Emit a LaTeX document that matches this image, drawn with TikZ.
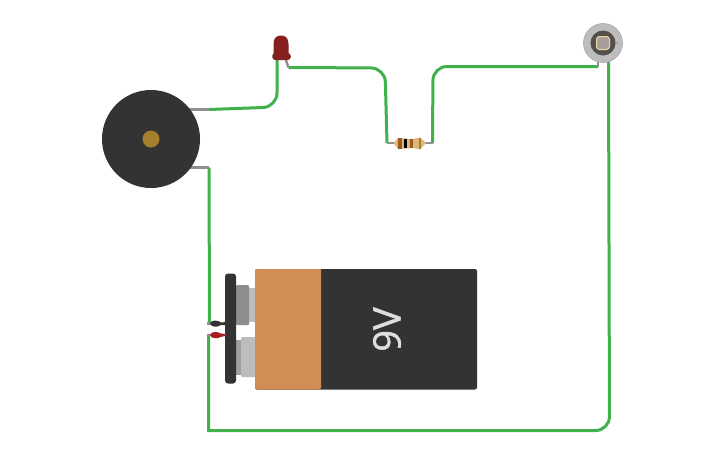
\documentclass[tikz,border=0pt]{standalone}
\usepackage{fontspec}
\setmainfont{Open Sans}
\newfontfamily\lablefont[FakeBold=1.2]{Open Sans}
\definecolor{wiregreen}{HTML}{41B14B}
\definecolor{leadgray}{HTML}{8F8F8F}
\definecolor{darkbody}{HTML}{333333}
\definecolor{battorange}{HTML}{D18D54}
\definecolor{ledred}{HTML}{85201F}
\definecolor{midgray}{HTML}{8E8E8E}
\definecolor{lightgray2}{HTML}{BDBDBD}
\definecolor{gold}{HTML}{A67F2E}
\definecolor{restan}{HTML}{DDB67C}
\definecolor{bandbrown}{HTML}{9A5A20}
\definecolor{clipred}{HTML}{A81E22}
\definecolor{ldrwindow}{HTML}{A99C99}
\definecolor{ldredge}{HTML}{EBDDA8}
\definecolor{ldrdark}{HTML}{544F4C}
\tikzset{
  wire/.style={draw=wiregreen,line width=3pt,line join=miter},
  lead/.style={draw=leadgray,line width=2.4pt},
  part/.style={draw=none,inner sep=0pt,outer sep=0pt},
  blk/.style={part,rectangle,anchor=north west}
}
\newcommand{\boxat}[6]{\node[blk,fill=#2,minimum width=#5pt,minimum height=#6pt,#1] at (#3,#4) {};}
\begin{document}
\begin{tikzpicture}[x=1pt,y=-1pt]
\useasboundingbox (0,0) rectangle (725,453);
\fill[white] (0,0) rectangle (725,453);
% terminals
\coordinate (bzA) at (189,109.5);
\coordinate (bzAe) at (209,109.5);
\coordinate (bzB) at (189,167.5);
\coordinate (bzBe) at (209,167.5);
\coordinate (ledA) at (277,47);
\coordinate (ledAe) at (277,60);
\coordinate (ledB) at (284,55);
\coordinate (ledBe) at (288.5,67.5);
\coordinate (resA) at (396,143);
\coordinate (resAe) at (387,143);
\coordinate (resB) at (424,143);
\coordinate (resBe) at (432.5,143);
\coordinate (ldrA) at (598,55);
\coordinate (ldrAe) at (598,66.5);
\coordinate (ldrB) at (608.5,55);
\coordinate (ldrBe) at (608.5,63);
\coordinate (batB) at (207,323.5);
\coordinate (batR) at (207,335);
% green wires
\draw[wire,rounded corners=14pt] (bzAe) -- (277,107) -- (ledAe);
\draw[wire,rounded corners=14pt] (ledBe) -- (385,68) -- (resAe);
\draw[wire,rounded corners=14pt] (resBe) -- (433,66.5) -- (ldrAe);
\draw[wire] (ldrBe) [rounded corners=14pt] -- (609.5,430.5) [sharp corners] -- (208.5,430.5) -- (208.5,335);
\draw[wire] (bzBe) -- (209.5,323.5);
% grey leads
\draw[lead] (bzA) -- (bzAe);
\draw[lead] (bzB) -- (bzBe);
\draw[lead] (ledA) -- (ledAe);
\draw[lead] (ledB) -- (ledBe);
\draw[lead] (resAe) -- (resA);
\draw[lead] (resB) -- (resBe);
\draw[lead] (ldrA) -- (ldrAe);
\draw[lead] (ldrB) -- (ldrBe);
\draw[lead] (batB) -- (212,323.5);
\draw[lead] (batR) -- (212,335);
% buzzer
\node[part,circle,fill=darkbody,minimum size=98pt] (buzzer) at (151,139) {};
\node[part,circle,fill=gold,minimum size=17pt] (buzzerdot) at (151,139) {};
% LED
\fill[ledred] (273.5,57) -- (273.5,44) .. controls (273.5,38) and (276.5,35.5) .. (281,35.5) .. controls (285.5,35.5) and (288.5,38) .. (288.5,44) -- (288.5,57) -- cycle;
\node[part,rectangle,rounded corners=3pt,fill=ledred,minimum width=18.5pt,minimum height=7pt] (ledbase) at (281.5,56.5) {};
% resistor
\fill[restan] (393.5,143) -- (398,138) -- (413,139) -- (420,137.5) -- (426,143) -- (420,149.5) -- (413,148) -- (398,149) -- cycle;
\node[part,rectangle,fill=bandbrown,minimum width=3.8pt,minimum height=11pt] (band1) at (400,143.5) {};
\node[part,rectangle,fill=black,minimum width=3.4pt,minimum height=9.5pt] (band2) at (405.7,143.5) {};
\node[part,rectangle,fill=bandbrown,minimum width=3.4pt,minimum height=9.5pt] (band3) at (411.5,143.5) {};
\node[part,rectangle,fill=gold,minimum width=2.4pt,minimum height=11pt] (band4) at (420,143.5) {};
% LDR
\node[part,circle,fill=lightgray2,draw=gray!70,line width=0.6pt,minimum size=39pt] (ldr) at (603,43) {};
\node[part,circle,fill=gray!75!white,minimum size=2.5pt] at (591,43) {};
\node[part,circle,fill=gray!75!white,minimum size=2.5pt] at (617,43) {};
\node[part,circle,fill=ldrdark,minimum size=25pt] (ldrin) at (603,43) {};
\node[part,rectangle,rounded corners=3pt,fill=ldrwindow,draw=ldredge,line width=1pt,minimum width=13pt,minimum height=13pt] (ldrwin) at (603,43) {};
% battery
\boxat{rounded corners=1pt}{midgray}{236}{285}{13}{40}
\boxat{}{lightgray2}{249}{288}{7}{34}
\boxat{}{midgray!85!white}{236}{340}{6}{35}
\boxat{rounded corners=1pt}{lightgray2}{241}{337}{15}{40}
\node[part,rectangle,rounded corners=3pt,fill=darkbody,minimum width=11pt,minimum height=110pt] (clip) at (230.5,328.5) {};
\fill[darkbody] (210,323.5) .. controls (211,319.5) and (218,320) .. (221,322.5) -- (226,322) -- (226,325) -- (221,325) .. controls (218,327.5) and (211,327.5) .. (210,323.5) -- cycle;
\fill[clipred] (210,335) .. controls (211,331) and (218,331.5) .. (221,333.5) -- (226,334) -- (226,336) -- (221,336.8) .. controls (218,339) and (211,339) .. (210,335) -- cycle;
\fill[darkbody,rounded corners=2pt] (255,269) rectangle (477,389.5);
\fill[battorange,rounded corners=2pt] (321,269) -- (255,269) -- (255,389.5) -- (321,389.5) [sharp corners] -- cycle;
\node[part,rotate=90,text=black!13,font=\lablefont\fontsize{38}{38}\selectfont] (label) at (387,329.5) {9V};
\end{tikzpicture}
\end{document}
